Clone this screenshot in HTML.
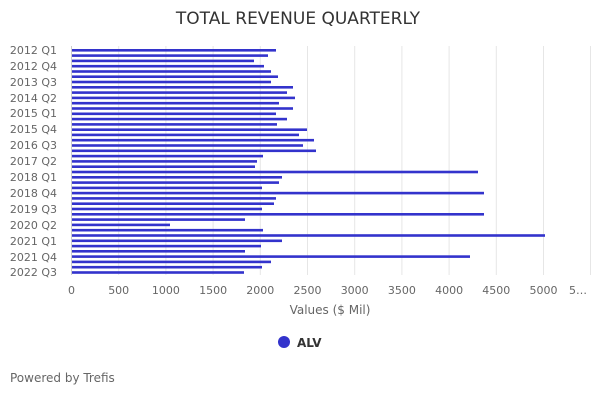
<!DOCTYPE html>
<html><head><meta charset="utf-8"><style>
body{margin:0;background:#fff;font-family:"Liberation Sans","DejaVu Sans",sans-serif}
</style></head><body>
<svg width="600" height="400" xmlns="http://www.w3.org/2000/svg" font-family="DejaVu Sans, Liberation Sans, sans-serif">
<text x="298" y="24" text-anchor="middle" font-size="17" fill="#333">TOTAL REVENUE QUARTERLY</text>
<g stroke="#e6e6e6" stroke-width="1">
<line x1="118.7" y1="46" x2="118.7" y2="275"/><line x1="165.9" y1="46" x2="165.9" y2="275"/><line x1="213.1" y1="46" x2="213.1" y2="275"/><line x1="260.3" y1="46" x2="260.3" y2="275"/><line x1="307.5" y1="46" x2="307.5" y2="275"/><line x1="354.7" y1="46" x2="354.7" y2="275"/><line x1="401.9" y1="46" x2="401.9" y2="275"/><line x1="449.1" y1="46" x2="449.1" y2="275"/><line x1="496.3" y1="46" x2="496.3" y2="275"/><line x1="543.5" y1="46" x2="543.5" y2="275"/><line x1="590.5" y1="46" x2="590.5" y2="275"/>
</g>
<line x1="71.5" y1="46" x2="71.5" y2="275" stroke="#ccc"/>
<g fill="#3333cc">
<rect x="72" y="49" width="204" height="2.6"/>
<rect x="72" y="54.3" width="196" height="2.6"/>
<rect x="72" y="59.6" width="182" height="2.6"/>
<rect x="72" y="64.9" width="192" height="2.6"/>
<rect x="72" y="70.2" width="199" height="2.6"/>
<rect x="72" y="75.4" width="206" height="2.6"/>
<rect x="72" y="80.7" width="199" height="2.6"/>
<rect x="72" y="86" width="221" height="2.6"/>
<rect x="72" y="91.3" width="215" height="2.6"/>
<rect x="72" y="96.6" width="223" height="2.6"/>
<rect x="72" y="101.9" width="207" height="2.6"/>
<rect x="72" y="107.2" width="221" height="2.6"/>
<rect x="72" y="112.5" width="204" height="2.6"/>
<rect x="72" y="117.8" width="215" height="2.6"/>
<rect x="72" y="123.1" width="205" height="2.6"/>
<rect x="72" y="128.4" width="235" height="2.6"/>
<rect x="72" y="133.6" width="227" height="2.6"/>
<rect x="72" y="138.9" width="242" height="2.6"/>
<rect x="72" y="144.2" width="231" height="2.6"/>
<rect x="72" y="149.5" width="244" height="2.6"/>
<rect x="72" y="154.8" width="191" height="2.6"/>
<rect x="72" y="160.1" width="185" height="2.6"/>
<rect x="72" y="165.4" width="183" height="2.6"/>
<rect x="72" y="170.7" width="406" height="2.6"/>
<rect x="72" y="176" width="210" height="2.6"/>
<rect x="72" y="181.3" width="207" height="2.6"/>
<rect x="72" y="186.6" width="190" height="2.6"/>
<rect x="72" y="191.8" width="412" height="2.6"/>
<rect x="72" y="197.1" width="204" height="2.6"/>
<rect x="72" y="202.4" width="202" height="2.6"/>
<rect x="72" y="207.7" width="190" height="2.6"/>
<rect x="72" y="213" width="412" height="2.6"/>
<rect x="72" y="218.3" width="173" height="2.6"/>
<rect x="72" y="223.6" width="98" height="2.6"/>
<rect x="72" y="228.9" width="191" height="2.6"/>
<rect x="72" y="234.2" width="473" height="2.6"/>
<rect x="72" y="239.5" width="210" height="2.6"/>
<rect x="72" y="244.8" width="189" height="2.6"/>
<rect x="72" y="250" width="173" height="2.6"/>
<rect x="72" y="255.3" width="398" height="2.6"/>
<rect x="72" y="260.6" width="199" height="2.6"/>
<rect x="72" y="265.9" width="190" height="2.6"/>
<rect x="72" y="271.2" width="172" height="2.6"/>
</g>
<g font-size="11" fill="#666" text-anchor="end">
<text x="57" y="54">2012 Q1</text><text x="57" y="70">2012 Q4</text><text x="57" y="86">2013 Q3</text><text x="57" y="102">2014 Q2</text><text x="57" y="117">2015 Q1</text><text x="57" y="133">2015 Q4</text><text x="57" y="149">2016 Q3</text><text x="57" y="165">2017 Q2</text><text x="57" y="181">2018 Q1</text><text x="57" y="197">2018 Q4</text><text x="57" y="213">2019 Q3</text><text x="57" y="229">2020 Q2</text><text x="57" y="245">2021 Q1</text><text x="57" y="261">2021 Q4</text><text x="57" y="276">2022 Q3</text>
</g>
<g font-size="11" fill="#666" text-anchor="middle">
<text x="71.5" y="294">0</text><text x="118.7" y="294">500</text><text x="165.9" y="294">1000</text><text x="213.1" y="294">1500</text><text x="260.3" y="294">2000</text><text x="307.5" y="294">2500</text><text x="354.7" y="294">3000</text><text x="401.9" y="294">3500</text><text x="449.1" y="294">4000</text><text x="496.3" y="294">4500</text><text x="543.5" y="294">5000</text><text x="578" y="294">5…</text>
</g>
<text x="330" y="314" text-anchor="middle" font-size="12" fill="#666">Values ($ Mil)</text>
<circle cx="284" cy="342" r="6" fill="#3333cc"/>
<text x="297" y="347" font-size="12" font-weight="bold" fill="#333">ALV</text>
<text x="10" y="382" font-size="12" fill="#666">Powered by Trefis</text>
</svg>
</body></html>
